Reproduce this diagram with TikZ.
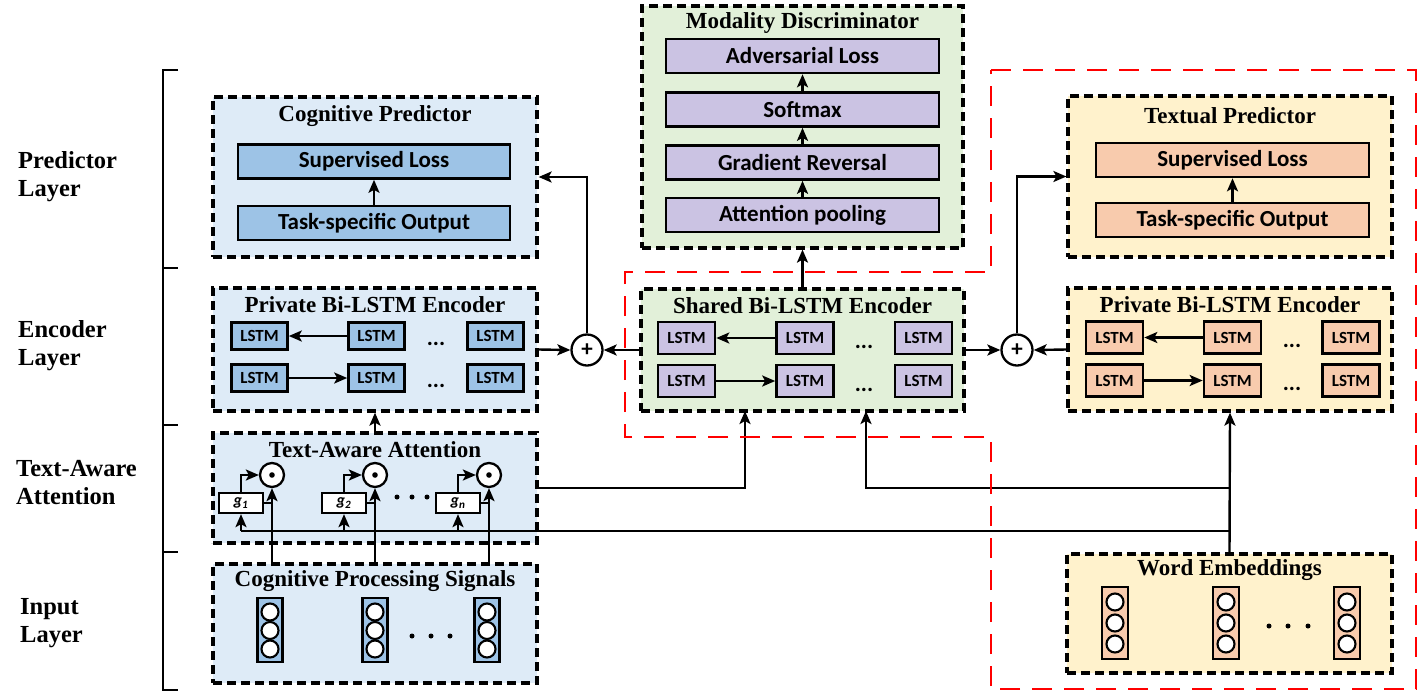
\documentclass[tikz,border=0pt]{standalone}
\usepackage{fontspec}
\setmainfont{Liberation Serif}
\newfontfamily\calfont{Carlito}
\usetikzlibrary{arrows.meta}
\definecolor{bluebg}{HTML}{DEEBF7}
\definecolor{bluebox}{HTML}{9DC3E6}
\definecolor{greenbg}{HTML}{E2F0D9}
\definecolor{purplebox}{HTML}{CBC3E3}
\definecolor{orangebg}{HTML}{FFF2CC}
\definecolor{orangebox}{HTML}{F8CBAD}
\definecolor{reddash}{HTML}{FF0000}
\begin{document}
\begin{tikzpicture}[x=1pt, y=-1pt, line width=2.4pt,
  >={Stealth[length=13pt,width=11pt,inset=3pt]},
  panel/.style = {draw, line width=3.2pt, dash pattern=on 9pt off 5pt, minimum width=324pt, inner sep=0pt},
  title/.style = {font=\bfseries\fontsize{23}{27}\selectfont, inner sep=0pt},
  layer/.style = {font=\bfseries\fontsize{24.5}{28}\selectfont, align=left, anchor=west, inner sep=0pt},
  block/.style = {draw, line width=2.6pt, minimum width=273pt, minimum height=34pt, inner sep=0pt, font=\calfont\bfseries\fontsize{23}{27}\selectfont},
  lstm/.style = {draw, line width=2.6pt, minimum width=57pt, minimum height=32pt, inner sep=0pt, font=\calfont\bfseries\fontsize{17}{20}\selectfont},
  gate/.style = {draw, fill=white, line width=2.3pt, minimum width=44pt, minimum height=20pt, inner sep=0pt, font=\calfont\bfseries\itshape\fontsize{16}{18}\selectfont},
  odot/.style = {draw, circle, fill=white, line width=2.3pt, minimum size=24pt, inner sep=0pt},
  oplus/.style = {draw, circle, fill=white, line width=2.3pt, minimum size=31pt, inner sep=0pt, font=\calfont\bfseries\fontsize{23}{23}\selectfont},
  vec/.style = {draw, line width=2.3pt, minimum width=25pt, inner sep=0pt},
  cell/.style = {draw, circle, fill=white, line width=2.1pt, minimum size=17pt, inner sep=0pt},
  dots/.style = {font=\calfont\bfseries\fontsize{23}{23}\selectfont, inner sep=0pt},
  redline/.style = {draw=reddash, line width=2.8pt, dash pattern=on 20pt off 12pt}
]
\useasboundingbox (0,0) rectangle (1422,697);

% layer labels and bracket
\node[layer] (lpred) at (17,176.5) {Predictor\\Layer};
\node[layer] (lenc) at (17,346) {Encoder\\Layer};
\node[layer] (latt) at (15,483) {Text-Aware\\Attention};
\node[layer] (linp) at (19,623) {Input\\Layer};
\draw[line width=2.4pt] (178,70) -- (163,70) -- (163,690) -- (178,690);
\foreach \y in {268,425,552} \draw[line width=2.4pt] (163,\y) -- (178,\y);

% cognitive side
\node[panel, fill=bluebg, minimum height=160pt] (cog) at (375,177) {};
\node[title] (cogt) at (375,116) {Cognitive Predictor};
\node[block, fill=bluebox, minimum width=272pt] (cogloss) at (374,161.5) {Supervised Loss};
\node[block, fill=bluebox, minimum width=272pt] (cogout) at (374,223) {Task-specific Output};
\draw[->] (cogout) -- (cogloss);

\node[panel, fill=bluebg, minimum height=123pt] (privl) at (375,349.5) {};
\node[title] (privlt) at (375,305) {Private Bi-LSTM Encoder};
\foreach \x [count=\i] in {259.5,376.5,495.5} {
  \node[lstm, fill=bluebox, minimum width=56pt, minimum height=27pt] (pla\i) at (\x,336) {LSTM};
  \node[lstm, fill=bluebox, minimum width=56pt, minimum height=27pt] (plb\i) at (\x,378) {LSTM};
}
\draw[->] (pla2) -- (pla1);
\draw[->] (plb1) -- (plb2);
\node[dots] (pld1) at (436,344) {...};
\node[dots] (pld2) at (436,386) {...};

\node[panel, fill=bluebg, minimum height=110pt] (taa) at (375,488) {};
\node[title] (taat) at (375,450) {Text-Aware Attention};

\node[panel, fill=bluebg, minimum height=119pt] (cps) at (375,623.5) {};
\node[title] (cpst) at (375,581) {Cognitive Processing Signals};
\foreach \x [count=\i] in {270,375,487} {
  \node[vec, fill=bluebox, minimum height=64pt] (cv\i) at (\x,630) {};
  \foreach \y [count=\j] in {612,630.5,649} \node[cell] (cv\i\j) at (\x,\y) {};
}
\foreach \x in {412,431,450} \fill (\x,636) circle (2.5pt);

% modality discriminator and shared encoder
\node[panel, fill=greenbg, minimum width=321pt, minimum height=242pt] (md) at (802.5,127) {};
\node[title] (mdt) at (802.5,23) {Modality Discriminator};
\node[block, fill=purplebox] (adv) at (802.5,56) {Adversarial Loss};
\node[block, fill=purplebox] (soft) at (802.5,109.5) {Softmax};
\node[block, fill=purplebox] (grad) at (802.5,162.5) {Gradient Reversal};
\node[block, fill=purplebox] (pool) at (802.5,215) {Attention pooling};
\draw[->] (pool) -- (grad);
\draw[->] (grad) -- (soft);
\draw[->] (soft) -- (adv);

\node[panel, fill=greenbg, minimum width=323pt, minimum height=122pt] (shared) at (802.5,350) {};
\node[title] (sharedt) at (802.5,306) {Shared Bi-LSTM Encoder};
\foreach \x [count=\i] in {686.5,805,923.5} {
  \node[lstm, fill=purplebox] (sa\i) at (\x,338) {LSTM};
  \node[lstm, fill=purplebox] (sb\i) at (\x,381) {LSTM};
}
\draw[->] (sa2) -- (sa1);
\draw[->] (sb1) -- (sb2);
\node[dots] (sd1) at (864,347) {...};
\node[dots] (sd2) at (864,390) {...};

% textual side
\node[panel, fill=orangebg, minimum height=161pt] (tp) at (1230,176.5) {};
\node[title] (tpt) at (1230,116) {Textual Predictor};
\node[block, fill=orangebox] (tploss) at (1232.5,160) {Supervised Loss};
\node[block, fill=orangebox] (tpout) at (1232.5,220) {Task-specific Output};
\draw[->] (tpout) -- (tploss);

\node[panel, fill=orangebg, minimum height=123pt] (privr) at (1230,349.5) {};
\node[title] (privrt) at (1230,305) {Private Bi-LSTM Encoder};
\foreach \x [count=\i] in {1114.5,1232.5,1351} {
  \node[lstm, fill=orangebox] (pra\i) at (\x,337.5) {LSTM};
  \node[lstm, fill=orangebox] (prb\i) at (\x,380.5) {LSTM};
}
\draw[->] (pra2) -- (pra1);
\draw[->] (prb1) -- (prb2);
\node[dots] (prd1) at (1292,346) {...};
\node[dots] (prd2) at (1292,389) {...};

\node[panel, fill=orangebg, minimum width=325pt, minimum height=119pt] (we) at (1229.5,613.5) {};
\node[title] (wet) at (1229.5,570) {Word Embeddings};
\foreach \x [count=\i] in {1115,1226,1347} {
  \node[vec, fill=orangebox, minimum width=26pt, minimum height=72pt] (wv\i) at (\x,623) {};
  \foreach \y [count=\j] in {602,623,644} \node[cell] (wv\i\j) at (\x,\y) {};
}
\foreach \x in {1269,1288,1308} \fill (\x,626) circle (2.5pt);

% fusion
\node[oplus] (addl) at (587,350) {+};
\node[oplus] (addr) at (1017,350) {+};
\draw[->] (privl.east) -- (addl.west);
\draw[->] (shared.west) -- (addl.east);
\draw[->] (addl.north) |- (cog.east);
\draw[->] (shared.east) -- (addr.west);
\draw[->] (privr.west) -- (addr.east);
\draw[->] (addr.north) |- (tp.west);
\draw[->] (shared.north) -- (md.south);
\draw[->] (taa.north) -- (privl.south);

% inputs
\coordinate (s1) at (745,411);
\coordinate (s2) at (866,411);
\coordinate (j1) at (1229.5,488);
\coordinate (j2) at (1229.5,531);
\draw[->] (we.north) -- (privr.south);
\draw[->] (taa.east) -| (s1);
\draw[->] (j1) -| (s2);

% text-aware gates
\foreach \x/\g [count=\i] in {272/1,375/2,489/n} {
  \node[odot] (o\i) at (\x,475) {};
  \fill (o\i) circle (2.8pt);
  \node[gate] (g\i) at ({\x-31},503) {g\textsubscript{\g}};
  \draw[->] (g\i.north) |- (o\i.west);
  \draw (g\i.east) -- (o\i |- g\i.east);
  \draw[->] (o\i |- cps.north) -- (o\i.south);
  \draw[->] (g\i.south |- j2) -- (g\i.south);
}
\draw (j2) -- (g1.south |- j2);
\foreach \x in {397,412,427} \fill (\x,497) circle (2.5pt);

% textual branch region
\draw[redline] (991,70) -- (1416,70) -- (1416,689) -- (991,689) -- (991,437) -- (625,437) -- (625,272) -- (991,272) -- cycle;
\end{tikzpicture}
\end{document}
